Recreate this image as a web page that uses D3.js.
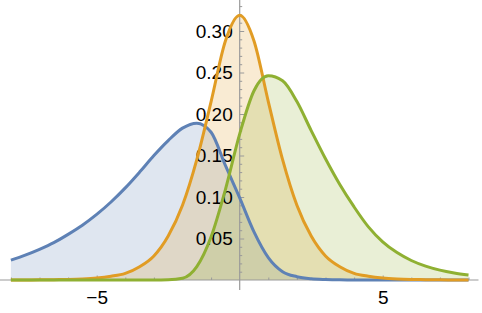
<!DOCTYPE html>
<html>
<script src="https://d3js.org/d3.v7.min.js"></script>
<style>
body {margin:0; background:#fff;}
text {font-family:"Liberation Sans", Arial, sans-serif;}
</style>
<body>
<svg width=482 height=313></svg>
<script>
// sample positions and curve heights
const xs = [-8,-7.5,-7,-6.5,-6,-5.5,-5,-4.5,-4,-3.5,-3,-2.5,-2,-1.5,-1,-0.5,0,0.5,1,1.5,2,2.5,3,3.5,4,4.5,5,5.5,6,6.5,7,7.5,8];
const blue = [0.024,0.030,0.037,0.045,0.055,0.066,0.079,0.094,0.111,0.130,0.150,0.168,0.183,0.189,0.178,0.138,0.099,0.058,0.027,0.010,0.004,0.0015,0.0006,0.0002,0.0001,0,0,0,0,0,0,0,0];
const orange = [0.0001,0.0001,0.0002,0.0004,0.0007,0.0013,0.0024,0.0045,0.008,0.016,0.029,0.053,0.090,0.145,0.215,0.288,0.319,0.288,0.215,0.145,0.090,0.053,0.029,0.016,0.008,0.0045,0.0024,0.0013,0.0007,0.0004,0.0002,0.0001,0.0001];
const green = [0,0,0,0,0,0,0,0,0,0,0,0.0002,0.002,0.016,0.052,0.109,0.176,0.228,0.246,0.240,0.215,0.180,0.146,0.115,0.088,0.064,0.046,0.033,0.0235,0.0167,0.0119,0.0085,0.006];
const xMajor = [-5, 5];
const xMinor = [-8,-7,-6,-4,-3,-2,-1,1,2,3,4,6,7,8];
const yMajor = [0.05,0.10,0.15,0.20,0.25,0.30];
const yMinor = [0.01,0.02,0.03,0.04,0.06,0.07,0.08,0.09,0.11,0.12,0.13,0.14,0.16,0.17,0.18,0.19,0.21,0.22,0.23,0.24,0.26,0.27,0.28,0.29,0.31,0.32,0.33];

const series = [
  {vals: blue, color: "#5E81B5"},
  {vals: orange, color: "#E19C24"},
  {vals: green, color: "#8FB032"}
];

const svg = d3.select("svg");
const x = d3.scaleLinear().domain([-8, 8]).range([10.9, 468.5]);
const y = d3.scaleLinear().domain([0, 0.3]).range([280, 31]);
const axisColor = "#9a9a9a";

const area = d3.area().x((d, i) => x(xs[i])).y0(y(0)).y1(d => y(d)).curve(d3.curveMonotoneX);
const line = d3.line().x((d, i) => x(xs[i])).y(d => y(d)).curve(d3.curveMonotoneX);

// fills
series.forEach(s => {
  svg.append("path").datum(s.vals)
    .attr("d", area)
    .attr("fill", s.color)
    .attr("fill-opacity", 0.2);
});

// axes
function styleAxis(g) {
  g.select(".domain").remove();
  g.selectAll(".tick line").attr("stroke", axisColor);
  g.selectAll("text").attr("fill", "#000").style("font-size", "19px").attr("font-family", "Liberation Sans, Arial, sans-serif");
}

svg.append("line")
  .attr("x1", x(-8) - 11).attr("x2", x(8) + 10)
  .attr("y1", y(0)).attr("y2", y(0))
  .attr("stroke", axisColor).attr("stroke-width", 1.2);
svg.append("line")
  .attr("x1", x(0)).attr("x2", x(0))
  .attr("y1", 0).attr("y2", y(0) + 10)
  .attr("stroke", axisColor).attr("stroke-width", 1.2);

svg.append("g").attr("transform", `translate(0,${y(0)})`)
  .call(d3.axisBottom(x).tickValues(xMinor).tickSize(-2.5).tickFormat(""))
  .call(styleAxis);
svg.append("g").attr("transform", `translate(0,${y(0)})`)
  .call(d3.axisBottom(x).tickValues(xMajor).tickSize(-4.5).tickPadding(11).tickFormat(d => d < 0 ? "\u2212" + Math.abs(d) : d))
  .call(styleAxis);

svg.append("g").attr("transform", `translate(${x(0)},0)`)
  .call(d3.axisLeft(y).tickValues(yMinor).tickSize(-2.5).tickFormat(""))
  .call(styleAxis);
svg.append("g").attr("transform", `translate(${x(0)},0)`)
  .call(d3.axisLeft(y).tickValues(yMajor).tickSize(-4.5).tickPadding(7).tickFormat(d3.format(".2f")))
  .call(styleAxis);

// curves
series.forEach(s => {
  svg.append("path").datum(s.vals)
    .attr("d", line)
    .attr("fill", "none")
    .attr("stroke", s.color)
    .attr("stroke-width", 3)
    .attr("stroke-linejoin", "round");
});
</script>
</body>
</html>
